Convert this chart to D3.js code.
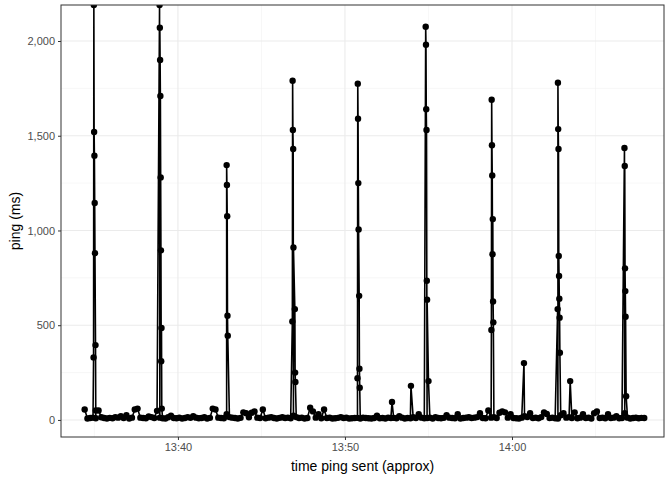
<!DOCTYPE html>
<html><head><meta charset="utf-8">
<script src="https://cdn.jsdelivr.net/npm/d3@7"></script>
<style>body{margin:0;background:#fff;font-family:"Liberation Sans",Arial,sans-serif}</style>
</head><body><svg id="c" width="672" height="480"></svg>
<script>
// time in seconds after 13:34:00
const baseStart = 25, baseStep = 10;
const baseValues = [
 55,8,10,12,9,50,14,10,8,11, 9,15,12,20,10,25,8,12,55,60,
 12,10,9,18,15,10,48,12,9,8, 14,22,10,9,12,8,10,15,11,20,
 12,9,10,14,8,11,60,55,12,10, 9,30,15,12,10,8,11,40,35,14,
 38,45,12,10,55,9,12,15,10,8, 11,14,10,12,9,22,15,10,12,8,
 10,65,45,12,30,9,55,10,12,8, 9,11,15,10,12,8,9,10,11,8,
 12,10,9,8,10,22,9,10,8,12, 10,11,9,20,12,8,10,9,14,10,
 30,12,9,10,12,8,15,10,9,11, 25,12,10,9,30,8,10,12,14,10,
 12,15,35,10,9,50,12,15,10,38, 45,40,12,30,10,9,8,12,20,15,
 35,10,12,9,15,40,32,10,12,9, 8,25,35,12,15,10,40,9,12,30,
 10,12,8,35,45,10,12,9,30,10, 12,20,9,10,35,12,8,10,12,9,
 11,10
];
const spikeTimes = [
 57,58,59,60,61,62,64,65,
 294,295,296,297,298,299,300,301,302,
 535,536,537,538,539,
 771,772,773,774,775,780,781,782,
 1005,1006,1007,1008,1009,1011,1012,1013,
 1129,1197,
 1250,1251,1252,1253,1254,1255,1260,
 1486,1487,1488,1489,1490,1491,1492,1493,
 1603,
 1724,1725,1726,1727,1728,1729,1730,1731,1732,
 1769,
 1964,1965,1966,1967,1968,1970
];
const spikeValues = [
 330,2190,1520,1395,1145,880,395,50,
 2190,2070,1900,1710,1280,895,310,485,60,
 1345,1240,1075,550,445,
 520,1790,1530,1430,910,585,250,200,
 220,1775,1590,1250,1005,655,270,170,
 95,180,
 2075,1980,1640,1530,735,635,205,
 475,1690,1450,1290,875,1060,625,515,
 300,
 585,1780,1535,1430,865,760,640,540,355,
 205,
 1435,1340,800,680,545,125
];
const xTickLabels = ["13:40","13:50","14:00"];
const yTicks = [0,500,1000,1500,2000];

const data = baseValues.map((v,i)=>({t:baseStart+baseStep*i,v}))
  .concat(spikeTimes.map((t,i)=>({t,v:spikeValues[i]})))
  .sort((a,b)=>a.t-b.t);

const svg = d3.select("#c");
const L=61,R=664,T=5,B=437;
const x = d3.scaleLinear().domain([-60, 2106]).range([L,R]);
const y = d3.scaleLinear().domain([-90, 2190]).range([B,T]);
const minorX=[-5,5,15,25].map(m=>m*60+360), majorX=[0,10,20].map(m=>m*60+360);
const g=svg.append("g");
[250,750,1250,1750].forEach(v=>g.append("line").attr("x1",L).attr("x2",R).attr("y1",y(v)).attr("y2",y(v)).attr("stroke","#f2f2f2").attr("stroke-width",0.6));
minorX.forEach(t=>g.append("line").attr("y1",T).attr("y2",B).attr("x1",x(t)).attr("x2",x(t)).attr("stroke","#f2f2f2").attr("stroke-width",0.6));
yTicks.forEach(v=>g.append("line").attr("x1",L).attr("x2",R).attr("y1",y(v)).attr("y2",y(v)).attr("stroke","#ebebeb").attr("stroke-width",1.1));
majorX.forEach(t=>g.append("line").attr("y1",T).attr("y2",B).attr("x1",x(t)).attr("x2",x(t)).attr("stroke","#ebebeb").attr("stroke-width",1.1));
svg.append("clipPath").attr("id","cp").append("rect").attr("x",L).attr("y",T).attr("width",R-L).attr("height",B-T);
const pg=svg.append("g").attr("clip-path","url(#cp)");
pg.append("path").datum(data).attr("fill","none").attr("stroke","#000").attr("stroke-width",1.6)
  .attr("d",d3.line().x(d=>x(d.t)).y(d=>y(d.v)));
pg.selectAll("circle").data(data).join("circle").attr("cx",d=>x(d.t)).attr("cy",d=>y(d.v)).attr("r",3.2).attr("fill","#000");
svg.append("rect").attr("x",L).attr("y",T).attr("width",R-L).attr("height",B-T).attr("fill","none").attr("stroke","#333").attr("stroke-width",1);
const ya=d3.axisLeft(y).tickValues(yTicks).tickFormat(d3.format(",")).tickSize(3);
const yg=svg.append("g").attr("transform",`translate(${L},0)`).call(ya);
const xa=d3.axisBottom(x).tickValues(majorX).tickFormat((d,i)=>xTickLabels[i]).tickSize(3);
const xg=svg.append("g").attr("transform",`translate(0,${B})`).call(xa);
[yg,xg].forEach(a=>{a.select(".domain").remove();a.selectAll(".tick line").attr("stroke","#333");a.selectAll("text").attr("fill","#4d4d4d").style("font-size","11px").style("font-family","Liberation Sans, Arial");});
svg.append("text").attr("x",(L+R)/2).attr("y",471).attr("text-anchor","middle").style("font-size","14px").text("time ping sent (approx)");
svg.append("text").attr("transform",`translate(20,${(T+B)/2}) rotate(-90)`).attr("text-anchor","middle").style("font-size","14px").text("ping (ms)");
</script></body></html>
